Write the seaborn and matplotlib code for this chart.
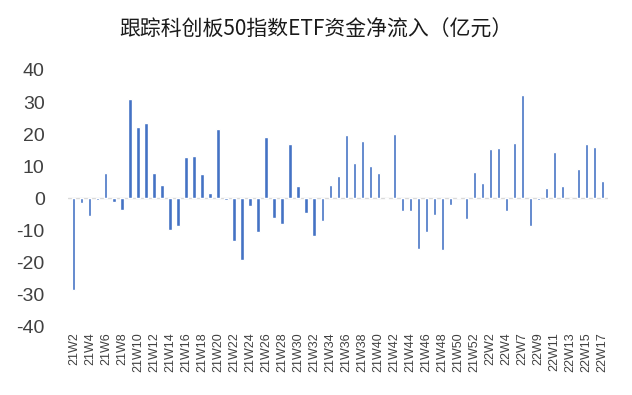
import matplotlib
matplotlib.use("Agg")
import matplotlib.pyplot as plt
import seaborn as sns
import pandas as pd

# weekly labels (22W6 missing in the source data)
weeks_21 = ["21W%d" % i for i in range(2, 53)]
weeks_22 = ["22W%d" % i for i in [1, 2, 3, 4, 5, 7, 8, 9, 10, 11, 12, 13, 14, 15, 16, 17]]
weeks = weeks_21 + weeks_22

# net inflow, 100m CNY
flows_21 = [-28.5, -1.4, -5.4, -0.4, 7.9, -1.1, -3.5, 31.0, 22.3, 23.5,
            7.9, 4.2, -9.9, -8.5, 12.9, 13.2, 7.6, 1.7, 21.7, -0.4,
            -13.2, -19.2, -2.3, -10.4, 19.2, -6.0, -7.9, 17.0, 3.9, -4.5,
            -11.7, -7.0, 4.2, 7.0, 19.8, 11.0, 18.0, 10.1, 7.9, -0.3,
            20.1, -3.9, -3.9, -15.7, -10.4, -5.1, -16.0, -2.0, 0.4, -6.5,
            8.2]
flows_22 = [4.8, 15.4, 15.7, -3.9, 17.3, 32.3, -8.5, -0.4, 3.2, 14.5,
            3.9, 0.0, 9.2, 17.0, 16.0, 5.4]
flows = flows_21 + flows_22

df = pd.DataFrame({"week": weeks, "flow": flows})

sns.set_theme(style="white")
plt.rcParams['font.family'] = ['Noto Sans CJK SC', 'DejaVu Sans']
plt.rcParams['axes.unicode_minus'] = False

fig = plt.figure(figsize=(6.32, 3.95), dpi=100)
ax = fig.add_axes([0.108, 0.173, 0.854, 0.650])

sns.barplot(data=df, x="week", y="flow", color="#4472C4", width=0.4,
            saturation=1, ax=ax)
ax.axhline(0, color="#d9d9d9", lw=1, zorder=0)

ax.set_ylim(-40, 40)
ax.set_yticks(range(-40, 41, 10))
ax.set_yticklabels([str(v) for v in range(-40, 41, 10)], fontsize=14,
                   family=['Liberation Sans', 'DejaVu Sans'], color="#404040")
ax.set_xlim(-0.7, len(weeks) - 0.3)
ax.set_xticks(range(0, len(weeks), 2))
ax.set_xticklabels(weeks[::2], rotation=90, fontsize=9,
                   family=['Liberation Sans', 'DejaVu Sans'], color="#404040")
ax.tick_params(axis="y", length=0, pad=17)
ax.tick_params(axis="x", length=0, pad=4)
for s in ax.spines.values():
    s.set_visible(False)
ax.set_xlabel("")
ax.set_ylabel("")

fig.text(0.5, 0.925, "跟踪科创板50指数ETF资金净流入（亿元）", ha="center", va="center",
         fontsize=15, color="#1a1a1a")

fig.savefig("out.png", dpi=100)
plt.close(fig)
